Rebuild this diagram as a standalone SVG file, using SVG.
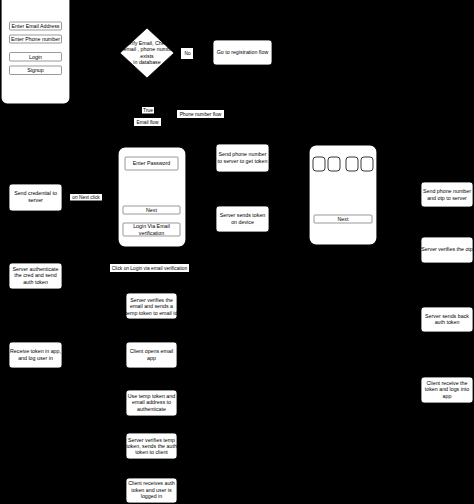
<svg xmlns="http://www.w3.org/2000/svg" width="474" height="504" viewBox="0 0 474 504">
<defs>
<marker id="arr" markerWidth="6" markerHeight="6" refX="5" refY="3" orient="auto" markerUnits="userSpaceOnUse"><path d="M0,0 L6,3 L0,6 z" fill="#000"/></marker>
<style>
.bg{fill:#000}
.box{fill:#fff;stroke:#000;stroke-width:0.8}
.phone{fill:#fff;stroke:#000;stroke-width:1.2}
.inner{fill:#fff;stroke:#555;stroke-width:0.6}
.sq{fill:#fff;stroke:#222;stroke-width:0.9}
.lbl{fill:#fff}
text{font-family:"Liberation Sans",Arial,sans-serif;font-size:5.3px;fill:#000;text-anchor:middle}
text.el{font-size:4.85px}
.edge{fill:none;stroke:#000;stroke-width:0.8;marker-end:url(#arr)}
</style>
</defs>
<rect class="bg" x="0" y="0" width="474" height="504"/>

<g id="connectors">
<path class="edge" d="M70,52 L120,52"/>
<path class="edge" d="M174,52 L213,52"/>
<path class="edge" d="M147,78 L147,147"/>
<path class="edge" d="M147,78 L147,114 L242,114 L242,144"/>
<path class="edge" d="M242,172 L242,206"/>
<path class="edge" d="M269,219 L309,195"/>
<path class="edge" d="M377,195 L421,195"/>
<path class="edge" d="M447,207 L447,237"/>
<path class="edge" d="M447,263 L447,307"/>
<path class="edge" d="M447,332 L447,377"/>
<path class="edge" d="M118,197 L62,197"/>
<path class="edge" d="M36,211 L36,263"/>
<path class="edge" d="M36,289 L36,342"/>
<path class="edge" d="M152,247 L152,293"/>
<path class="edge" d="M152,319 L152,342"/>
<path class="edge" d="M152,368 L152,390"/>
<path class="edge" d="M152,416 L152,433"/>
<path class="edge" d="M152,459 L152,478"/>
<rect class="lbl" x="181" y="48" width="12" height="11"/><text class="el" x="187.5" y="55.3">No</text>
<rect class="lbl" x="142" y="107" width="12" height="6.5"/><text class="el" x="148" y="112">True</text>
<rect class="lbl" x="134" y="118" width="27" height="8"/><text class="el" x="147.5" y="123.8">Email flow</text>
<rect class="lbl" x="177" y="110" width="47" height="8"/><text class="el" x="200.5" y="115.8">Phone number flow</text>
<rect class="lbl" x="70" y="194" width="32" height="6.5"/><text class="el" x="86" y="199">on Next click</text>
<rect class="lbl" x="110" y="264" width="79" height="8"/><text class="el" x="149.5" y="269.8">Click on Login via email verification</text>
</g>

<g id="login-screen">
<rect class="phone" x="1" y="-20" width="69" height="124" rx="6"/>
<rect class="inner" x="9.5" y="22" width="52" height="8" rx="1"/><text x="35.5" y="27.8">Enter Email Address</text>
<rect class="inner" x="9.5" y="35" width="52" height="8" rx="1"/><text x="35.5" y="40.8">Enter Phone number</text>
<rect class="inner" x="9.5" y="52.5" width="52" height="8.5" rx="1"/><text x="35.5" y="58.5">Login</text>
<rect class="inner" x="9.5" y="66" width="52" height="8.5" rx="1"/><text x="35.5" y="72">Signup</text>
</g>

<g id="check-exists">
<path class="box" d="M147,28 L174,53 L147,78 L120,53 Z"/>
<text x="147" y="45">Verify Email, Check</text>
<text x="147" y="51.2">if email , phone number</text>
<text x="147" y="57.7">exists</text>
<text x="147" y="64">in database</text>
</g>

<g id="registration">
<rect class="box" x="213" y="40" width="59" height="25" rx="3"/>
<text x="242.5" y="54">Go to registration flow</text>
</g>

<g id="email-screen">
<rect class="phone" x="118" y="147" width="68" height="100" rx="7"/>
<rect class="inner" x="125" y="157" width="53" height="13" rx="1"/><text x="151.5" y="165.3">Enter Password</text>
<rect class="inner" x="123" y="206" width="57" height="8" rx="1"/><text x="151.5" y="211.8">Next</text>
<rect class="inner" x="123" y="223" width="57" height="13" rx="1"/><text x="151.5" y="228.1">Login Via Email</text><text x="151.5" y="234.8">verification</text>
</g>

<g id="send-phone">
<rect class="box" x="216" y="144" width="53" height="28" rx="3"/>
<text x="242.5" y="155.8">Send phone number</text><text x="242.5" y="162.5">to server to get token</text>
</g>
<g id="server-sends-token">
<rect class="box" x="216" y="206" width="53" height="26" rx="3"/>
<text x="242.5" y="217.1">Server sends token</text><text x="242.5" y="223.8">on device</text>
</g>

<g id="otp-screen">
<rect class="phone" x="309" y="145" width="68" height="100" rx="7"/>
<rect class="sq" x="313" y="157" width="12" height="14" rx="3"/>
<rect class="sq" x="328" y="157" width="12" height="14" rx="3"/>
<rect class="sq" x="346" y="157" width="12" height="14" rx="3"/>
<rect class="sq" x="361" y="157" width="12" height="14" rx="3"/>
<rect class="inner" x="314" y="215" width="58" height="8" rx="1"/><text x="343" y="220.8">Next</text>
</g>

<g id="send-phone-otp">
<rect class="box" x="421" y="182" width="52" height="25" rx="3"/>
<text x="447" y="193.1">Send phone number</text><text x="447" y="199.8">and otp to server</text>
</g>
<g id="server-verifies-otp">
<rect class="box" x="421" y="237" width="52" height="26" rx="3"/>
<text x="447" y="250.8">Server verifies the otp</text>
</g>
<g id="server-sends-back">
<rect class="box" x="421" y="307" width="52" height="25" rx="3"/>
<text x="447" y="317.5">Server sends back</text><text x="447" y="324.1">auth token</text>
</g>
<g id="client-receive-token">
<rect class="box" x="421" y="377" width="52" height="26" rx="3"/>
<text x="447" y="384.5">Client receive the</text><text x="447" y="390.8">token and logs into</text><text x="447" y="397.5">app</text>
</g>

<g id="send-credential">
<rect class="box" x="9" y="184" width="53" height="27" rx="3"/>
<text x="35.5" y="195.3">Send credential to</text><text x="35.5" y="201.8">server</text>
</g>
<g id="server-authenticate">
<rect class="box" x="9" y="263" width="53" height="26" rx="3"/>
<text x="35.5" y="270.8">Server authenticate</text><text x="35.5" y="277.1">the cred and send</text><text x="35.5" y="283.5">auth token</text>
</g>
<g id="receive-token">
<rect class="box" x="9" y="342" width="53" height="26" rx="3"/>
<text x="35.5" y="352.8">Receive token in app,</text><text x="35.5" y="359.5">and log user in</text>
</g>

<g id="server-verifies-email">
<rect class="box" x="126" y="293" width="51" height="26" rx="3"/>
<text x="151.5" y="301.5">Server verifies the</text><text x="151.5" y="307.8">email and sends a</text><text x="151.5" y="314.5">temp token to email id</text>
</g>
<g id="client-opens-email">
<rect class="box" x="126" y="342" width="51" height="26" rx="3"/>
<text x="151.5" y="352.8">Client opens email</text><text x="151.5" y="359.5">app</text>
</g>
<g id="use-temp-token">
<rect class="box" x="126" y="390" width="51" height="26" rx="3"/>
<text x="151.5" y="397.8">Use temp token and</text><text x="151.5" y="404.1">email address to</text><text x="151.5" y="410.5">authenticate</text>
</g>
<g id="server-verifies-temp">
<rect class="box" x="126" y="433" width="51" height="26" rx="3"/>
<text x="151.5" y="441.5">Server verifies temp</text><text x="151.5" y="447.8">token, sends the auth</text><text x="151.5" y="454.1">token to client</text>
</g>
<g id="client-receives-auth">
<rect class="box" x="126" y="478" width="51" height="25" rx="3"/>
<text x="151.5" y="485.1">Client receives auth</text><text x="151.5" y="491.5">token and user is</text><text x="151.5" y="498.1">logged in</text>
</g>
</svg>
